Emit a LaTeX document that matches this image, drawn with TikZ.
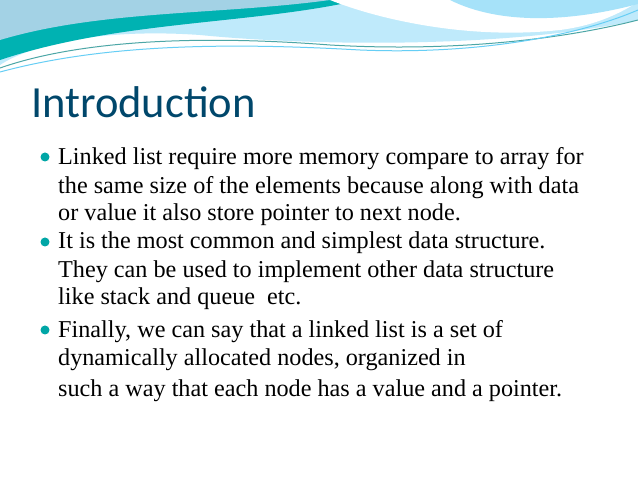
\documentclass[tikz,border=0pt]{standalone}
\usepackage{fontspec}
\setmainfont{Liberation Serif}
\newfontfamily\titlefont{Carlito}
\begin{document}
\begin{tikzpicture}[x=1pt,y=-1pt,
  bodyline/.style={anchor=base west,inner sep=0pt,font=\fontsize{24.2}{28}\selectfont},
  bul/.style={circle,fill=teal!70!cyan,inner sep=0pt,minimum size=9pt}]
\useasboundingbox (0,0) rectangle (638,478);
\fill[white] (0,0) rectangle (638,478);
% header waves
\fill[cyan!25] (0,0) -- (638,0) -- (638,20) .. controls (500,50) and (300,45) .. (200,35) .. controls (100,28) and (30,45) .. (0,65) -- cycle;
\fill[teal!60!cyan] (0,0) -- (360,0) .. controls (250,25) and (120,20) .. (0,60) -- cycle;
\fill[cyan!50!teal!40] (0,0) -- (330,0) .. controls (220,15) and (100,10) .. (0,40) -- cycle;
\draw[teal!70, line width=1pt] (0,68) .. controls (80,40) and (200,35) .. (330,45) .. controls (450,52) and (560,40) .. (638,20);
\draw[cyan!60, line width=1pt] (0,72) .. controls (100,45) and (220,42) .. (360,50) .. controls (480,55) and (580,35) .. (638,10);
\fill[white] (330,0) .. controls (380,20) and (470,40) .. (560,30) .. controls (600,25) and (625,10) .. (638,2) -- (638,0) -- cycle;
\fill[cyan!35] (450,0) .. controls (500,25) and (570,22) .. (638,4) -- (638,0) -- cycle;
\node[anchor=base west,inner sep=0pt,font=\titlefont\fontsize{44.5}{48}\selectfont,text=teal!80!blue!70!black] (title) at (31,118) {Introduction};
\node[bul] (b1) at (45,157) {};
\node[bul] (b2) at (45,242) {};
\node[bul] (b3) at (45,330) {};
\node[bodyline] (l1) at (58,165) {Linked list require more memory compare to array for};
\node[bodyline] (l2) at (58,194) {the same size of the elements because along with data};
\node[bodyline] (l3) at (58,221) {or value it also store pointer to next node.};
\node[bodyline] (l4) at (58,249) {It is the most common and simplest data structure.};
\node[bodyline] (l5) at (58,278) {They can be used to implement other data structure};
\node[bodyline] (l6) at (58,305) {like stack and queue\ \ etc.};
\node[bodyline] (l7) at (58,338) {Finally, we can say that a linked list is a set of};
\node[bodyline] (l8) at (58,366) {dynamically allocated nodes, organized in};
\node[bodyline] (l9) at (58,397) {such a way that each node has a value and a pointer.};
\end{tikzpicture}
\end{document}
